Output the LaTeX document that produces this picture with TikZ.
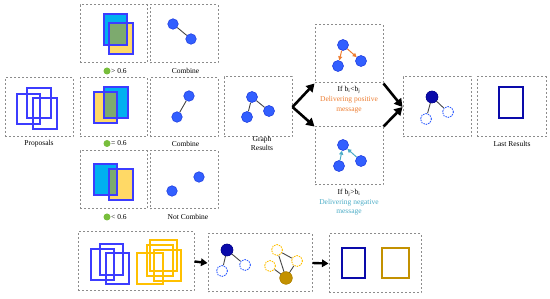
\documentclass[tikz,border=0pt]{standalone}
\usepackage{fontspec}
\setmainfont{Liberation Serif}
\usetikzlibrary{arrows.meta}
\definecolor{boxgray}{RGB}{140,140,140}
\definecolor{nblue}{RGB}{50,95,255}
\definecolor{nblueb}{RGB}{35,65,225}
\definecolor{rblue}{RGB}{60,60,255}
\definecolor{dblue}{RGB}{10,10,170}
\definecolor{rcyan}{RGB}{0,176,240}
\definecolor{ryellow}{RGB}{255,217,102}
\definecolor{rgreen}{RGB}{125,170,110}
\definecolor{dotgreen}{RGB}{120,190,60}
\definecolor{gold}{RGB}{255,192,0}
\definecolor{dgold}{RGB}{195,145,0}
\definecolor{porange}{RGB}{237,125,49}
\definecolor{ncyan}{RGB}{75,172,198}
\definecolor{edgegray}{RGB}{70,70,70}
\begin{document}
\begin{tikzpicture}[x=1pt,y=-1pt,
  dbox/.style={draw=boxgray, line width=1pt, dash pattern=on 2pt off 2pt, inner sep=0},
  lbl/.style={font=\fontsize{7.5}{9.5}\selectfont, inner sep=0, align=center},
  gnode/.style={circle, fill=nblue, draw=nblueb, line width=0.6pt, minimum size=11pt, inner sep=0},
  fnode/.style={circle, fill=dblue, draw=dblue!80!black, minimum size=12pt, inner sep=0},
  gfnode/.style={circle, fill=dgold, draw=dgold!90!black, minimum size=12.5pt, inner sep=0},
  dnode/.style={circle, draw=nblue, dash pattern=on 1.5pt off 1pt, line width=0.9pt, minimum size=11pt, inner sep=0, fill=white},
  ydnode/.style={circle, draw=gold, dash pattern=on 1.5pt off 1pt, line width=0.9pt, minimum size=11pt, inner sep=0, fill=white},
  gedge/.style={draw=edgegray, line width=0.9pt},
  bigarrow/.style={draw=black, line width=2.6pt, -{Triangle[length=8pt,width=9pt]}},
  botarrow/.style={draw=black, line width=2.4pt, -{Triangle[length=6.5pt,width=7.5pt]}},
  dot/.style={circle, fill=dotgreen, minimum size=7pt, inner sep=0},
  rb/.style={draw=rblue, line width=1.1pt},
  smallarrow/.style={line width=1pt, -{Triangle[length=4pt,width=4pt]}},
]
\useasboundingbox (0,0) rectangle (550,299);

% ---- boxes ----
\node[dbox, minimum width=67pt, minimum height=58pt] (b11) at (113.5,34) {};
\node[dbox, minimum width=68pt, minimum height=58pt] (b12) at (184,34) {};
\node[dbox, minimum width=67pt, minimum height=59pt] (b21) at (113.5,107.5) {};
\node[dbox, minimum width=68pt, minimum height=59pt] (b22) at (184,107.5) {};
\node[dbox, minimum width=67pt, minimum height=58pt] (b31) at (113.5,180) {};
\node[dbox, minimum width=68pt, minimum height=58pt] (b32) at (184,180) {};
\node[dbox, minimum width=68pt, minimum height=59pt] (prop) at (39,107.5) {};
\node[dbox, minimum width=68pt, minimum height=60pt] (graph) at (258,107) {};
\node[dbox, minimum width=68pt, minimum height=58pt] (pos) at (349,54) {};
\node[dbox, minimum width=68pt, minimum height=58pt] (neg) at (349,156) {};
\node[dbox, minimum width=68pt, minimum height=60pt] (fin) at (437,107) {};
\node[dbox, minimum width=69pt, minimum height=60pt] (last) at (511.5,107) {};
\node[dbox, minimum width=116pt, minimum height=59pt] (bot1) at (136,261.5) {};
\node[dbox, minimum width=104pt, minimum height=58pt] (bot2) at (260,263) {};
\node[dbox, minimum width=92pt, minimum height=59pt] (bot3) at (375,263.5) {};

% ---- overlap rectangles ----
% row 1
\fill[rcyan] (104,14) rectangle (127,45);
\fill[ryellow] (109,23) rectangle (133,54);
\fill[rgreen] (109,23) rectangle (127,45);
\draw[rb] (104,14) rectangle (127,45);
\draw[rb] (109,23) rectangle (133,54);
% row 2
\fill[rcyan] (104,87) rectangle (128,118);
\fill[ryellow] (94,92) rectangle (117,123);
\fill[rgreen] (104,92) rectangle (117,118);
\draw[rb] (104,87) rectangle (128,118);
\draw[rb] (94,92) rectangle (117,123);
% row 3
\fill[rcyan] (94,164) rectangle (117,195);
\fill[ryellow] (109,169) rectangle (133,200);
\fill[rgreen] (109,169) rectangle (117,195);
\draw[rb] (94,164) rectangle (117,195);
\draw[rb] (109,169) rectangle (133,200);

% proposals
\draw[rb] (17,94) rectangle (40,124);
\draw[rb] (27,88) rectangle (51,118);
\draw[rb] (33,98) rectangle (57,129);

% ---- labels under row boxes ----
\node[dot] (d1) at (107,71) {};
\node[lbl, anchor=west] (t1) at (111,71) {> 0.6};
\node[dot] (d2) at (107,143.5) {};
\node[lbl, anchor=west] (t2) at (111,143.5) {= 0.6};
\node[dot] (d3) at (107,217) {};
\node[lbl, anchor=west] (t3) at (111,217) {< 0.6};
\node[lbl] (c1) at (185.5,71) {Combine};
\node[lbl] (c2) at (185.5,143.5) {Combine};
\node[lbl] (c3) at (188,217) {Not Combine};
\node[lbl] (plbl) at (39,143.5) {Proposals};
\node[lbl] (glbl) at (262,143.5) {Graph\\Results};
\node[lbl] (llbl) at (512,143.5) {Last Results};

\node[lbl] (ifp) at (349,90) {If b\textsubscript{i}<b\textsubscript{j}};
\node[lbl, text=porange] (dp) at (349,104.5) {Delivering positive\\message};
\node[lbl] (ifn) at (349,192.5) {If b\textsubscript{j}>b\textsubscript{i}};
\node[lbl, text=ncyan] (dn) at (349,207) {Delivering negative\\message};

% ---- combine graphs ----
\node[gnode, minimum size=10.5pt] (r1a) at (173,24) {};
\node[gnode, minimum size=10.5pt] (r1b) at (191,39) {};
\draw[gedge] (r1a) -- (r1b);
\node[gnode, minimum size=10.5pt] (r2a) at (189,96) {};
\node[gnode, minimum size=10.5pt] (r2b) at (177,117) {};
\draw[gedge] (r2a) -- (r2b);
\node[gnode, minimum size=10.5pt] (r3a) at (199,177) {};
\node[gnode, minimum size=10.5pt] (r3b) at (172,191) {};

% ---- graph results ----
\node[gnode] (ga) at (252,97) {};
\node[gnode] (gb) at (247,117) {};
\node[gnode] (gc) at (269,111) {};
\draw[gedge] (ga) -- (gc);
\draw[gedge] (ga) -- (gb);

% ---- positive ----
\node[gnode] (pa) at (343,45) {};
\node[gnode] (pb) at (338,66) {};
\node[gnode] (pc) at (361,61) {};
\draw[porange, smallarrow] (pa) -- (pb);
\draw[porange, smallarrow] (pa) -- (pc);

% ---- negative ----
\node[gnode] (na) at (343,145) {};
\node[gnode] (nb) at (339,166) {};
\node[gnode] (nc) at (361,161) {};
\draw[ncyan, smallarrow] (nb) -- (na);
\draw[ncyan, smallarrow] (nc) -- (na);

% ---- final ----
\node[dnode] (fb) at (426,119) {};
\node[dnode] (fc) at (448,112) {};
\node[fnode] (fa) at (432,97) {};
\draw[gedge] (fa.center) -- (fb);
\draw[gedge] (fa.center) -- (fc);
\node[fnode] at (fa) {};

% last results
\draw[draw=dblue, line width=1.4pt] (499,87) rectangle (523,118);

% ---- big arrows ----
\draw[bigarrow] (graph.east) -- (pos.south west);
\draw[bigarrow] (graph.east) -- (neg.north west);
\draw[bigarrow] (pos.south east) -- (fin.west);
\draw[bigarrow] (neg.north east) -- (fin.west);

% ---- bottom row ----
\draw[rb] (91,249) rectangle (114,280);
\draw[rb] (100,244) rectangle (123,275);
\draw[rb] (106,253) rectangle (129,284);
\draw[gold, line width=1.1pt] (137,253) rectangle (163,284);
\draw[gold, line width=1.1pt] (147,245) rectangle (173,276);
\draw[gold, line width=1.1pt] (150,240) rectangle (177,271);
\draw[gold, line width=1.1pt] (154,250) rectangle (181,281);

\node[dnode] (ub) at (222,271) {};
\node[dnode] (uc) at (245,265) {};
\node[fnode] (ua) at (227,250) {};
\draw[gedge] (ua.center) -- (ub);
\draw[gedge] (ua.center) -- (uc);
\node[fnode] at (ua) {};

\node[ydnode] (y1) at (277,250) {};
\node[ydnode] (y2) at (270,266) {};
\node[ydnode] (y3) at (297,261) {};
\node[gfnode] (yf) at (286,278) {};
\draw[gedge] (y1) -- (y3);
\draw[gedge] (y1) -- (yf.center);
\draw[gedge] (y2) -- (yf.center);
\draw[gedge] (y3) -- (yf.center);
\node[gfnode] at (yf) {};

\draw[draw=dblue, line width=1.3pt] (342,248) rectangle (365,278);
\draw[draw=dgold, line width=1.3pt] (382,248) rectangle (409,278);

\draw[botarrow] (bot1.east) -- (bot2.west);
\draw[botarrow] (bot2.east) -- (bot3.west);
\end{tikzpicture}
\end{document}
